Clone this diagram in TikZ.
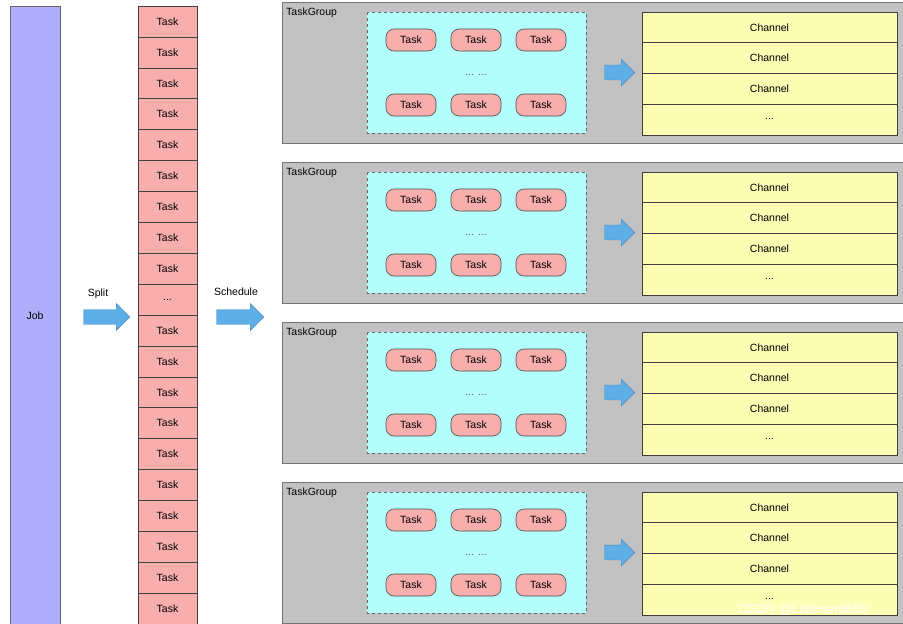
\documentclass[tikz,border=0pt]{standalone}
\usepackage{fontspec}
\setmainfont{Liberation Sans}
\usetikzlibrary{shapes.arrows}
\definecolor{jobc}{HTML}{AEAEFD}
\definecolor{taskc}{HTML}{F9AEAE}
\definecolor{grpc}{HTML}{C2C2C2}
\definecolor{cyanc}{HTML}{B2FFFE}
\definecolor{chanc}{HTML}{FDFDB4}
\definecolor{arrc}{HTML}{5EAEE8}
\tikzset{
  every node/.style={font=\fontsize{10.5}{12}\selectfont},
  jobbox/.style={draw=black!60,fill=jobc,line width=0.8pt},
  taskcell/.style={draw=black!75,fill=taskc,line width=0.6pt,minimum width=59pt,minimum height=30.9pt,inner sep=0pt},
  grpbox/.style={draw=black!55,fill=grpc,line width=0.8pt},
  poolbox/.style={draw=black!60,fill=cyanc,dashed,line width=0.6pt},
  pill/.style={draw=black!70,fill=taskc,rounded corners=8pt,minimum width=50pt,minimum height=22pt,inner sep=0pt,line width=0.6pt},
  chancell/.style={draw=black!75,fill=chanc,line width=0.6pt,minimum width=255pt,minimum height=30.75pt,inner sep=0pt},
  bigarrow/.style={single arrow,draw=arrc!80!black,fill=arrc,minimum height=#1,minimum width=27pt,single arrow head extend=3pt,inner sep=3.5pt,line width=0.4pt}
}
\begin{document}
\begin{tikzpicture}[x=1pt,y=-1pt]
\useasboundingbox (0,0) rectangle (903,624);
\fill[white] (0,0) rectangle (903,624);
\draw[jobbox] (10,6) rectangle (60,630);
\node (job) at (35,316) {Job};
\foreach \i in {1,...,20}{
  \ifnum\i=10
    \node[taskcell] (t\i) at (167.5,{6+(\i-0.5)*30.9}) {...};
  \else
    \node[taskcell] (t\i) at (167.5,{6+(\i-0.5)*30.9}) {Task};
  \fi
}
\node[bigarrow=46pt] (split) at (103,317) {};
\node (splitl) at (98,294) {Split};
\node[bigarrow=47pt] (sched) at (236.5,317) {};
\node (schedl) at (236,292) {Schedule};
\foreach \g in {0,1,2,3}{
  \begin{scope}[yshift={-\g*160pt}]
  \draw[grpbox] (282,2) rectangle (910,143);
  \node[anchor=north west,inner sep=0pt] (gl\g) at (286,8) {TaskGroup};
  \draw[poolbox] (367,12) rectangle (586,133);
  \foreach \c/\xx in {1/411,2/476,3/541}{
    \node[pill] (a\g\c) at (\xx,40) {Task};
    \node[pill] (b\g\c) at (\xx,105) {Task};
  }
  \node[text=black!60] (d\g) at (476,75) {... ...};
  \node[bigarrow=30pt] (ar\g) at (616,72.5) {};
  \node[chancell] (c\g1) at (769.5,27.4) {Channel};
  \node[chancell] (c\g2) at (769.5,58.1) {Channel};
  \node[chancell] (c\g3) at (769.5,88.9) {Channel};
  \node[chancell] (c\g4) at (769.5,119.6) {\raisebox{2pt}{...}};
  \end{scope}
}
\node[text=white,font=\fontsize{13}{15}\selectfont,inner sep=0pt] (wm) at (803,610) {CSDN @Listener6666};
\end{tikzpicture}
\end{document}
